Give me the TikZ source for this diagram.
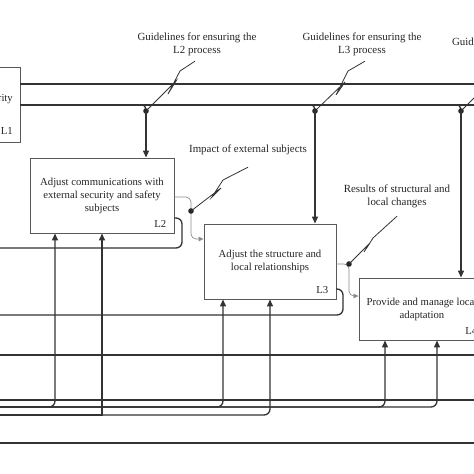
\documentclass[tikz,border=0pt]{standalone}
\usepackage{fontspec}
\setmainfont{Liberation Serif}
\usetikzlibrary{arrows.meta,calc}
\tikzset{
	procbox/.style={draw=black!65, line width=0.9pt, align=center, inner sep=0pt,
		font=\fontsize{10.7}{13}\selectfont, text=black!85},
	tag/.style={font=\fontsize{10.7}{13}\selectfont, inner sep=0pt, text=black!85},
	note/.style={align=center, inner sep=0pt, font=\fontsize{10.9}{13}\selectfont, text=black!85},
	wire/.style={draw=black!80, line width=1.3pt},
	flow/.style={wire, -{Triangle[length=7pt,width=6pt]}},
	output/.style={draw=black!45, line width=0.7pt, -{Triangle[length=5pt,width=4.5pt]}},
	bolt/.style={draw=black!80, line width=0.8pt, line join=miter},
	dot/.style={fill=black!85}
}

\begin{document}
\begin{tikzpicture}[x=1pt,y=-1pt]
	\useasboundingbox (0,0) rectangle (474,474);
	\fill[white] (0,0) rectangle (474,474);
	\clip (0,0) rectangle (474,474);

	% process boxes
	\node[procbox, minimum width=40pt, minimum height=75pt] (l1) at (0,104.5) {};
	\node[tag, anchor=east] at (13,99) {rity};
	\node[tag, anchor=east] at (13,131) {L1};
	\node[procbox, minimum width=144pt, minimum height=75pt] (l2) at (102,195.5)
		{Adjust communications with\\external security and safety\\subjects};
	\node[procbox, minimum width=132pt, minimum height=75pt] (l3) at (270,261.5)
		{Adjust the structure and\\local relationships};
	\node[procbox, minimum width=126pt, minimum height=62pt] (l4) at (422,309)
		{Provide and manage local\\adaptation};
	\node[tag, anchor=south east, xshift=-8pt, yshift=6pt] at (l2.south east) {L2};
	\node[tag, anchor=south east, xshift=-8pt, yshift=6pt] at (l3.south east) {L3};
	\node[tag, anchor=south east, xshift=-8pt, yshift=6pt] at (l4.south east) {L4};

	% labels
	\node[note] (g2) at (197,44.5) {Guidelines for ensuring the\\L2 process};
	\node[note] (g3) at (362,44.5) {Guidelines for ensuring the\\L3 process};
	\node[note] (g4) at (511.5,49.5) {Guidelines for ensuring the\\L4 process};
	\node[note] (ext) at (248,150) {Impact of external subjects};
	\node[note] (res) at (397,196.5) {Results of structural and\\local changes};

	\coordinate (j2) at (146,111);
	\coordinate (j3) at (315,111);
	\coordinate (j4) at (461,111);
	\coordinate (k2) at (191,211);
	\coordinate (k3) at (349,264);

	% control lines
	\draw[wire] (l1.east |- 0,84) -- (480,84);
	\draw[wire] (l1.east |- 0,105) -- (480,105);
	\foreach \j in {j2,j3,j4}{
		\draw[wire] ($(\j)+(-8,-6)$) .. controls ($(\j)+(-1,-6)$) .. (\j);
		\fill[dot] (\j) circle (2.8pt);
	}
	\draw[flow] (j2) -- (j2 |- l2.north);
	\draw[flow] (j3) -- (j3 |- l3.north);
	\draw[flow] (j4) -- (j4 |- l4.north);
	\draw[bolt] ([xshift=-2pt,yshift=-5pt]g2.south) -- (180,71) -- (168,94) -- (176,81) -- (j2);
	\draw[bolt] ([xshift=3pt,yshift=-5pt]g3.south) -- (348,71) -- (336,95) -- (345,82) -- (j3);
	\draw[bolt] (480,92) -- (j4);

	% outputs
	\draw[output, rounded corners=5pt] ([yshift=-1.5pt]l2.east) -| (k2) |- ([yshift=22.5pt]l3.west);
	\draw[output, rounded corners=5pt] ([yshift=-2.5pt]l3.east) -- (k3) |- ([yshift=13pt]l4.west);
	\fill[dot] (k2) circle (2.8pt);
	\fill[dot] (k3) circle (2.8pt);
	\draw[bolt] ([yshift=-12pt]ext.south) -- (223,180) -- (212,197) -- (221,188) -- (k2);
	\draw[bolt] ([yshift=-8pt]res.south) -- (373,238) -- (364,252) -- (370,243) -- (k3);

	% feedback
	\draw[wire, rounded corners=6pt] ([yshift=-22.5pt]l2.east) -- (182,218) -- (182,248) -- (-5,248);
	\draw[wire, rounded corners=6pt] ([yshift=-27.5pt]l3.east) -- (343,289) -- (343,315) -- (-5,315);

	% inputs
	\draw[flow, rounded corners=6pt] (-5,407) -| ([xshift=-47pt]l2.south);
	\draw[flow, rounded corners=6pt] (-5,407) -| ([xshift=-47pt]l3.south);
	\draw[flow, rounded corners=6pt] (-5,407) -| ([xshift=-37pt]l4.south);
	\draw[flow, rounded corners=6pt] (-5,407) -| ([xshift=15pt]l4.south);
	\draw[flow] (-5,415) -| (l2.south);
	\draw[flow, rounded corners=6pt] (-5,415) -| (l3.south);
	\foreach \y in {355,400,443}
		\draw[wire] (-5,\y) -- (480,\y);
\end{tikzpicture}
\end{document}
